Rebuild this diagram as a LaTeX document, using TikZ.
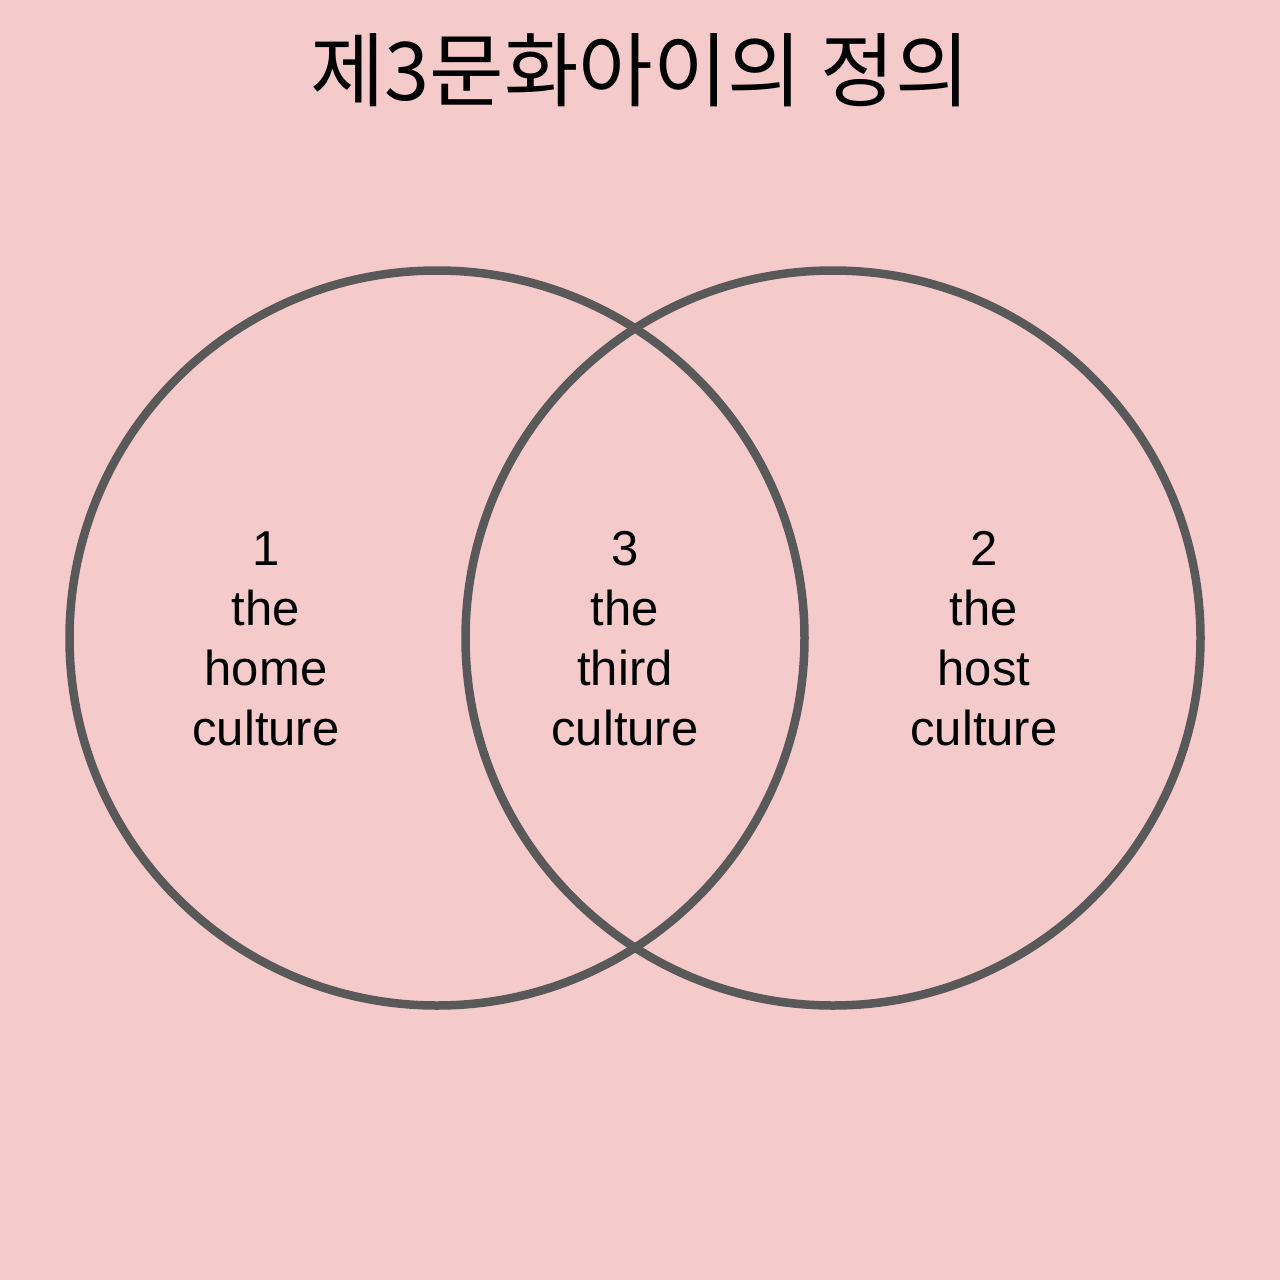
\documentclass[tikz,border=0pt]{standalone}
\usepackage{fontspec}
\setmainfont{Liberation Sans}
\newfontfamily\kofont{Noto Sans CJK KR}
\definecolor{bgpink}{HTML}{F4CACB}
\definecolor{ringgray}{HTML}{595959}
\begin{document}
\begin{tikzpicture}
[x=1pt, y=-1pt,
 ring/.style ={draw=ringgray, line width=8.5pt, shape=circle, minimum size=735pt, inner sep=0pt},
 label/.style ={align=center, inner sep=0pt, font=\fontsize{49}{60}\selectfont}]
\fill[bgpink] (0,0) rectangle (1280,1280);
\useasboundingbox (0,0) rectangle (1280,1280);
\node[ring] (home) at (437,638) {};
\node[ring] (host) at (833,638) {};
\node[label] (one) at (266,639) {1\\the\\home\\culture};
\node[label] (three) at (625,639) {3\\the\\third\\culture};
\node[label] (two) at (984,639) {2\\the\\host\\culture};
\node[inner sep=0pt, font=\kofont\fontsize{81}{88}\selectfont] (title) at (640,70) {제3문화아이의 정의};
\end{tikzpicture}
\end{document}
